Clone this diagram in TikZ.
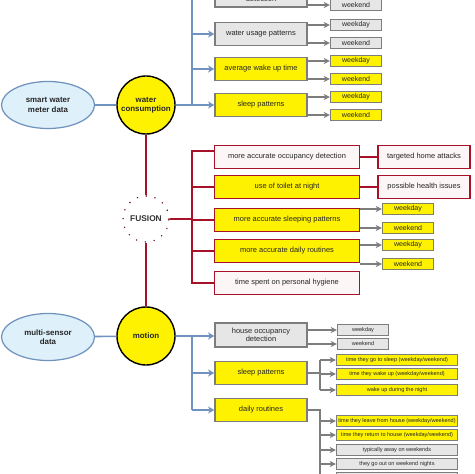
\documentclass[tikz,border=0pt]{standalone}
\usepackage{fontspec}
\setmainfont{Liberation Sans}
\usetikzlibrary{arrows.meta,shapes.geometric}
\definecolor{linkblue}{RGB}{112,146,190}
\definecolor{srcfill}{RGB}{222,240,250}
\definecolor{boxgray}{RGB}{125,125,125}
\definecolor{boxfill}{RGB}{230,230,230}
\definecolor{fusred}{RGB}{168,18,40}
\definecolor{pinkfill}{RGB}{253,246,246}
\definecolor{olivegray}{RGB}{128,128,96}
\tikzset{
  txt/.style={font=\fontsize{8.5}{9.5}\selectfont, text=black!85},
  bigbox/.style={txt, draw=boxgray, line width=1.7pt, minimum width=3.68cm, minimum height=0.9cm, inner sep=1pt, align=center},
  graybox/.style={bigbox, fill=boxfill},
  yelbox/.style={bigbox, fill=yellow},
  redbox/.style={bigbox, draw=fusred, fill=pinkfill, minimum width=5.8cm, minimum height=0.92cm},
  redyel/.style={redbox, fill=yellow},
  daybox/.style={txt, font=\fontsize{8}{9}\selectfont, draw=boxgray, line width=1.4pt, minimum width=2.04cm, minimum height=0.44cm, inner sep=0pt},
  grayday/.style={daybox, fill=boxfill},
  yelday/.style={daybox, fill=yellow},
  tinybox/.style={daybox, font=\fontsize{6.3}{7}\selectfont},
  wideyel/.style={tinybox, fill=yellow, minimum width=4.84cm, minimum height=0.46cm},
  widegray/.style={tinybox, fill=boxfill, minimum width=4.84cm, minimum height=0.46cm},
  source/.style={ellipse, draw=linkblue, line width=1.4pt, fill=srcfill, minimum width=3.72cm, minimum height=1.88cm, inner sep=0pt, align=center, font=\bfseries\fontsize{9}{10.5}\selectfont, text=black!85},
  hub/.style={circle, draw=black, line width=1.6pt, fill=yellow, minimum size=2.32cm, inner sep=0pt, align=center, font=\bfseries\fontsize{9}{10.5}\selectfont, text=black!85},
  blueline/.style={draw=linkblue, line width=1.8pt},
  bluearrow/.style={blueline, -{Stealth[length=7pt,width=8pt,inset=2pt]}},
  grayarrow/.style={draw=boxgray, line width=1.8pt, -{Stealth[length=7pt,width=7pt,inset=2pt]}},
  grayline/.style={draw=boxgray, line width=1.8pt},
  fusline/.style={draw=fusred, line width=1.8pt},
}
\begin{document}
\begin{tikzpicture}[x=0.04cm, y=-0.04cm]
    \clip (0,0) rectangle (474,474);
    \fill[white] (0,0) rectangle (474,474);
    % water meter branch
    \node[source] (swm) at (48,105) {smart water\\meter data};
    \node[hub] (wc) at (146,105) {water\\consumption};
    \node[graybox, minimum height=0.96cm] (wocc) at (261,-5) {house occupancy\\detection};
    \node[graybox] (wup) at (261,34) {water usage patterns};
    \node[yelbox] (wake) at (261,69) {average wake up time};
    \node[yelbox] (wslp) at (261,105) {sleep patterns};
    \node[grayday] (wocc2) at (356,5) {weekend};
    \node[grayday] (wup1) at (356,25) {weekday};
    \node[grayday] (wup2) at (356,43) {weekend};
    \node[yelday] (wake1) at (356,61) {weekday};
    \node[yelday] (wake2) at (356,79) {weekend};
    \node[yelday] (wslp1) at (356,97) {weekday};
    \node[yelday] (wslp2) at (356,115) {weekend};
    \coordinate (wtop) at (192,-30);
    \coordinate (wjoin) at (192,105);
    \draw[blueline] (swm) -- (wc);
    \draw[blueline] (wc.east) -- (wjoin) -- (wtop);
    \draw[bluearrow] (wjoin) -- (wslp.west);
    \draw[bluearrow] (wtop |- wake) -- (wake.west);
    \draw[bluearrow] (wtop |- wup) -- (wup.west);
    \draw[bluearrow] (wtop |- wocc) -- (wocc.west);
    \draw[grayarrow] (wocc.east |- wocc2) -- (wocc2.west);
    \draw[grayarrow] (wup.east |- wup1) -- (wup1.west);
    \draw[grayarrow] (wup.east |- wup2) -- (wup2.west);
    \draw[grayarrow] (wake.east |- wake1) -- (wake1.west);
    \draw[grayarrow] (wake.east |- wake2) -- (wake2.west);
    \draw[grayarrow] (wslp.east |- wslp1) -- (wslp1.west);
    \draw[grayarrow] (wslp.east |- wslp2) -- (wslp2.west);
    % fusion
    \node[circle, minimum size=1.84cm, draw=fusred!60!black, line width=1.8pt, line cap=round, dash pattern=on 0pt off 10.2pt, font=\bfseries\fontsize{9.5}{11}\selectfont, text=black!80] (fus) at (146,219) {FUSION};
    \node[redbox] (occ) at (287,157) {more accurate occupancy detection};
    \node[redyel] (toil) at (287,187) {use of toilet at night};
    \node[redyel] (fslp) at (287,220) {more accurate sleeping patterns};
    \node[redyel] (frou) at (287,251) {more accurate daily routines};
    \node[redbox] (hyg) at (287,283) {time spent on personal hygiene};
    \node[redbox, minimum width=3.68cm] (atk) at (424,157) {targeted home attacks};
    \node[redbox, minimum width=3.68cm] (hlth) at (424,187) {possible health issues};
    \node[yelday, draw=olivegray] (fslp1) at (408,209) {weekday};
    \node[yelday, draw=olivegray] (fslp2) at (408,228) {weekend};
    \node[yelday, draw=olivegray] (frou1) at (408,245) {weekday};
    \node[yelday, draw=olivegray] (frou2) at (408,264) {weekend};
    \coordinate (ftop) at (192,151);
    \coordinate (fbot) at (192,283);
    \draw[fusline] (occ.west |- ftop) -- (ftop) -- (fbot) -- (hyg.west);
    \draw[fusline] (fus.east) -- (ftop |- fus);
    \draw[fusline] (ftop |- toil) -- (toil.west);
    \draw[fusline] (ftop |- fslp) -- (fslp.west);
    \draw[fusline] (ftop |- frou) -- (frou.west);
    \draw[fusline] (occ) -- (atk);
    \draw[fusline] (toil) -- (hlth);
    \draw[grayarrow] (fslp.east |- fslp1) -- (fslp1.west);
    \draw[grayarrow] (fslp.east |- fslp2) -- (fslp2.west);
    \draw[grayarrow] (frou.east |- frou1) -- (frou1.west);
    \draw[grayarrow] (frou.east |- frou2) -- (frou2.west);
    % motion branch
    \node[source] (msd) at (48,337) {multi-sensor\\data};
    \node[hub] (mot) at (146,336) {motion};
    \draw[fusline] (wc.south) -- (fus.north);
    \draw[fusline] (fus.south) -- (mot.north);
    \node[graybox, minimum height=0.96cm] (mocc) at (261,335) {house occupancy\\detection};
    \node[yelbox] (mslp) at (261,373) {sleep patterns};
    \node[yelbox] (mrou) at (261,410) {daily routines};
    \node[tinybox, fill=boxfill] (mocc1) at (363,330) {weekday};
    \node[tinybox, fill=boxfill] (mocc2) at (363,344) {weekend};
    \node[wideyel] (mslp1) at (397,360) {time they go to sleep (weekday/weekend)};
    \node[wideyel] (mslp2) at (397,374) {time they wake up (weekday/weekend)};
    \node[wideyel] (mslp3) at (397,390) {wake up during the night};
    \node[wideyel] (mrou1) at (397,421) {time they leave from house (weekday/weekend)};
    \node[wideyel] (mrou2) at (397,435) {time they return to house (weekday/weekend)};
    \node[widegray] (mrou3) at (397,450) {typically away on weekends};
    \node[widegray] (mrou4) at (397,464) {they go out on weekend nights};
    \node[widegray] (mrou5) at (397,478) {};
    \coordinate (mjoin) at (192,336);
    \coordinate (mbot) at (192,410);
    \draw[blueline] (msd) -- (mot);
    \draw[blueline] (mot.east) -- (mjoin) -- (mbot);
    \draw[bluearrow] (mjoin) -- (mjoin -| mocc.west);
    \draw[bluearrow] (mbot |- mslp) -- (mslp.west);
    \draw[bluearrow] (mbot) -- (mrou.west);
    \draw[grayarrow] (mocc.east |- mocc1) -- (mocc1.west);
    \draw[grayarrow] (mocc.east |- mocc2) -- (mocc2.west);
    \coordinate (sfork) at (320,373);
    \draw[grayline] (mslp.east) -- (sfork);
    \draw[grayline] (sfork |- mslp1) -- (sfork |- mslp3);
    \draw[grayarrow] (sfork |- mslp1) -- (mslp1.west);
    \draw[grayarrow] (sfork |- mslp2) -- (mslp2.west);
    \draw[grayarrow] (sfork |- mslp3) -- (mslp3.west);
    \coordinate (rfork) at (320,410);
    \draw[grayline] (mrou.east |- rfork) -- (rfork) -- ++(0,90);
    \draw[grayarrow] (rfork |- mrou1) -- (mrou1.west);
    \draw[grayarrow] (rfork |- mrou2) -- (mrou2.west);
    \draw[grayarrow] (rfork |- mrou3) -- (mrou3.west);
    \draw[grayarrow] (rfork |- mrou4) -- (mrou4.west);
    \draw[grayarrow] (rfork |- mrou5) -- (mrou5.west);
\end{tikzpicture}
\end{document}
